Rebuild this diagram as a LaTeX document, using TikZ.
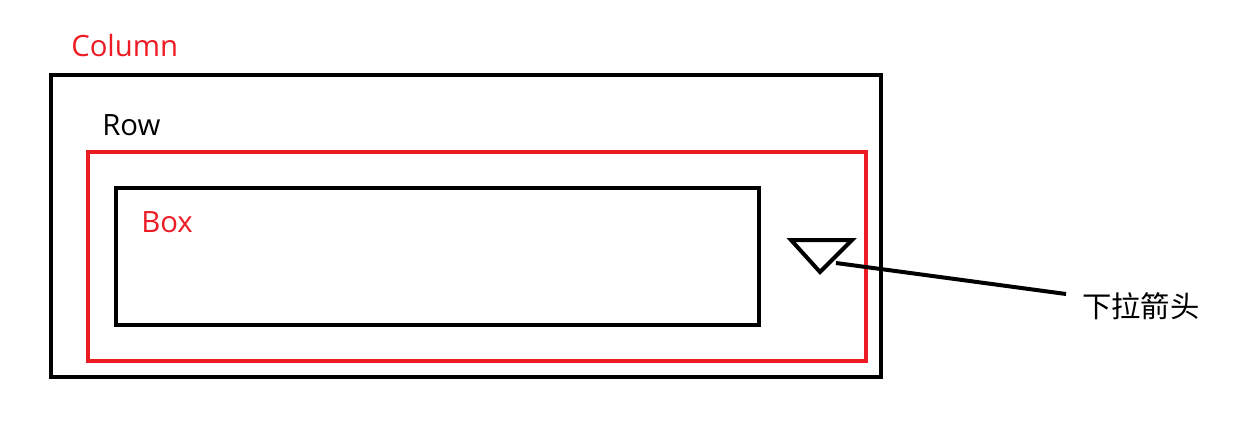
\documentclass[tikz,border=0pt]{standalone}
\usepackage{fontspec}
\setmainfont{Open Sans}
\newfontfamily\cjk{Noto Sans CJK SC}
\usepackage{tikz}
\usetikzlibrary{calc}
\definecolor{paintred}{RGB}{237,28,36}

\begin{document}
\begin{tikzpicture}[x=0.75pt,y=0.75pt,yscale=-1,xscale=1]
\tikzset{frame/.style={line width=3pt},
  lbl/.style={anchor=west,inner sep=0.75pt,font=\fontsize{22}{26}\selectfont}}
\useasboundingbox (0,0) rectangle (1248,431);

%Shape: Rectangle [Column]
\draw [frame]  (51,75) rectangle (881,377) ;
%Shape: Rectangle [Row]
\draw [frame,color=paintred]  (88,152) rectangle (866,361) ;
%Shape: Rectangle [Box]
\draw [frame]  (116,188) rectangle (759,325) ;
%Shape: Triangle [arrow]
\draw [frame,line join=miter]  (791,240) coordinate (tl) -- (852,240) coordinate (tr) -- (820,272) coordinate (tip) -- cycle ;
\coordinate (lineStart) at (836,263) ;
\coordinate (lineEnd) at (1066,294) ;

% Text Node
\node (column) [lbl,text=paintred] at (70,46) {Column};
% Text Node
\node (row) [lbl] at (101,125) {Row};
% Text Node
\node (box) [lbl,text=paintred] at (140,222) {Box};
% Text Node
\node (arrowLabel) [lbl] at (1081,306) {\cjk 下拉箭头};

%Straight Lines
\draw [frame]  (lineStart) -- (lineEnd) ;

\end{tikzpicture}
\end{document}
